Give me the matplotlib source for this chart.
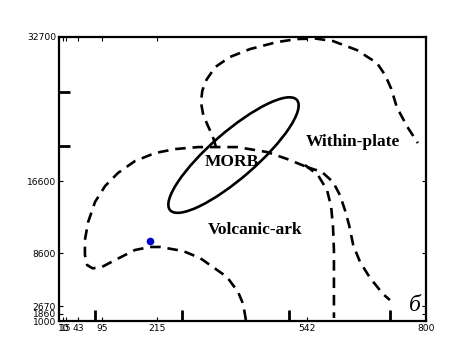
import matplotlib
matplotlib.use('Agg')
import matplotlib.pyplot as plt
from matplotlib.patches import Ellipse
from matplotlib.transforms import ScaledTranslation

# tick values of the chart
x_ticks = [10, 15, 43, 95, 215, 542, 800]
y_ticks = [1000, 1860, 2670, 8600, 16600, 32700]

# volcanic-arc field boundary (from bottom, around the left lobe, to the right)
arc_x = [408, 402, 391, 367, 336, 308, 271, 221, 199, 166, 123, 94, 74, 62, 57, 57, 64,
         79, 101, 129, 166, 210, 254, 304, 389, 454, 498, 541]
arc_y = [1150, 2930, 4260, 5930, 7050, 8050, 8830, 9280, 9280, 8940, 7830, 7050, 6900,
         7250, 8400, 10060, 12060, 14290, 16070, 17520, 18850, 19750, 20190, 20410,
         20410, 19860, 19080, 18190]

# inner branch going down to the bottom
inner_x = [537, 565, 585, 594, 598, 600, 600, 600]
inner_y = [18410, 17300, 15620, 13730, 11500, 8940, 5600, 1370]

# outer branch
outer_x = [541, 574, 598, 613, 624, 633, 642, 657, 679, 707, 722]
outer_y = [18190, 17630, 16520, 15070, 13400, 11730, 9500, 7600, 5820, 4040, 3370]

# within-plate field boundary
wp_x = [343, 335, 325, 315, 310, 313, 322, 341, 373, 417, 476, 520, 560, 598, 650, 694,
        712, 725, 737, 759, 783]
wp_y = [20410, 21700, 22800, 24000, 25400, 26700, 27900, 29320, 30440, 31330, 32110,
        32450, 32500, 32220, 31220, 29770, 28400, 26900, 24870, 22750, 20860]

# MORB ellipse: centre in data units, axes in inches, angle in degrees
morb_center = (381, 19520)
morb_size = (1.68, 0.46)
morb_angle = 41

# frame ticks of the scanned diagram
frame_tick_x = [79, 269, 502, 722]
frame_tick_y = [26570, 20530]

# sample point
sample_x = [200]
sample_y = [10000]

fig = plt.figure(figsize=(4.74, 3.57), dpi=100)
ax = fig.add_axes([0.124, 0.100, 0.774, 0.797])
ax.set_xlim(0, 800)
ax.set_ylim(1000, 32700)

dash = dict(color='black', lw=1.9, ls=(0, (4.0, 2.6)), solid_capstyle='butt')
ax.plot(arc_x, arc_y, **dash)
ax.plot(inner_x, inner_y, **dash)
ax.plot(outer_x, outer_y, **dash)
ax.plot(wp_x, wp_y, **dash)

tr = fig.dpi_scale_trans + ScaledTranslation(morb_center[0], morb_center[1], ax.transData)
ax.add_patch(Ellipse((0, 0), morb_size[0], morb_size[1], angle=morb_angle,
                     transform=tr, fill=False, ec='black', lw=1.9))

ax.plot(frame_tick_x, [1000] * len(frame_tick_x), ls='none', marker='|', ms=16,
        mew=2, color='black')
ax.plot([0] * len(frame_tick_y), frame_tick_y, ls='none', marker='_', ms=16,
        mew=2, color='black')

label_style = dict(fontsize=12.5, family='Liberation Serif', weight='bold',
                   ha='center', va='center')
ax.text(378, 18740, 'MORB', **label_style)
ax.text(642, 20970, 'Within-plate', **label_style)
ax.text(428, 11170, 'Volcanic-ark', **label_style)
ax.text(777, 2815, 'б', fontsize=17, family='Liberation Serif', style='italic',
        ha='center', va='center')

ax.plot(sample_x, sample_y, 'o', color='#0000cc', ms=4.5)

ax.set_xticks(x_ticks)
ax.set_xticklabels([str(v) for v in x_ticks])
ax.set_yticks(y_ticks)
ax.set_yticklabels([str(v) for v in y_ticks])
ax.tick_params(direction='in', length=3, top=True, right=True, labelsize=6.6,
               pad=2)
for s in ax.spines.values():
    s.set_linewidth(1.6)

fig.savefig('out.png', dpi=100)
